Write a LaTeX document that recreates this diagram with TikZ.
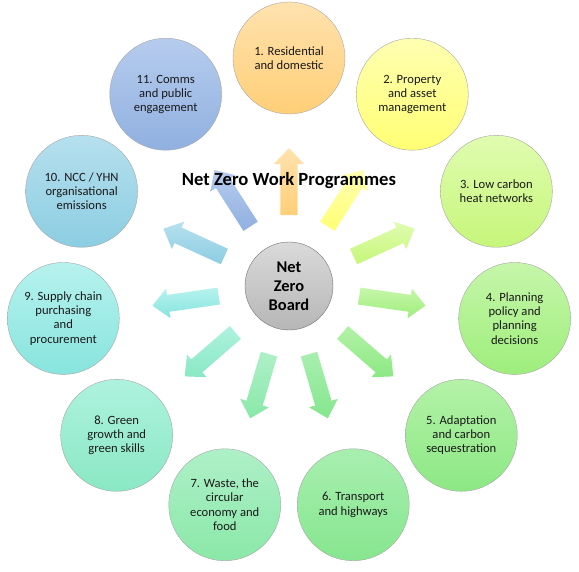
\documentclass[tikz,border=0pt]{standalone}
\usepackage{fontspec}
\setmainfont{Carlito}
\usetikzlibrary{positioning}
\definecolor{top1}{HTML}{FFE2AE}\definecolor{bot1}{HTML}{FFCF78}
\definecolor{top2}{HTML}{FFFFB2}\definecolor{bot2}{HTML}{FFFF74}
\definecolor{top3}{HTML}{E0FCB0}\definecolor{bot3}{HTML}{C6F67A}
\definecolor{top4}{HTML}{C6F6AA}\definecolor{bot4}{HTML}{9EEE7C}
\definecolor{top5}{HTML}{B4F2A8}\definecolor{bot5}{HTML}{8CE884}
\definecolor{top6}{HTML}{A8EFB0}\definecolor{bot6}{HTML}{86E68E}
\definecolor{top7}{HTML}{AEF0C8}\definecolor{bot7}{HTML}{8AE8A8}
\definecolor{top8}{HTML}{AEF2DE}\definecolor{bot8}{HTML}{8AE8C4}
\definecolor{top9}{HTML}{B6F2EE}\definecolor{bot9}{HTML}{88E4DE}
\definecolor{top10}{HTML}{B6E0EE}\definecolor{bot10}{HTML}{8CCDE2}
\definecolor{top11}{HTML}{B6CCEE}\definecolor{bot11}{HTML}{90B0E0}
\definecolor{boardt}{HTML}{DADADA}
\definecolor{boardb}{HTML}{B6B6B6}

\begin{document}
\begin{tikzpicture}[x=1pt,y=1pt,
  prog/.style={circle,draw=black!35,minimum size=112pt,inner sep=0pt,align=center,
    font=\fontsize{12.6}{14.2}\selectfont,text=black!90}]
\useasboundingbox (-289,-285) rectangle (290,286);
% block arrows from the board out to each programme
\foreach \i in {1,...,11}{
  \pgfmathsetmacro\a{90-(\i-1)*360/11}
  \shade[top color=top\i,bottom color=bot\i] (\a+6.83:71.51) -- (\a+3.99:122.3) -- (\a+7.01:122.92) -- (\a:138)
    -- (\a-7.01:122.92) -- (\a-3.99:122.3) -- (\a-6.83:71.51) -- cycle;}
\node[font=\fontsize{18.6}{22}\selectfont\bfseries] (title) at (0,105) {Net Zero Work Programmes};
\node[circle,draw=black!55,minimum size=88pt,inner sep=0pt,top color=boardt,bottom color=boardb,
  align=center,font=\fontsize{16.4}{19}\selectfont\bfseries] (board) at (0,0) {Net\\Zero\\Board};
\foreach \i/\txt in {1/{1. Residential\\and domestic},2/{2. Property\\and asset\\management},
  3/{3. Low carbon\\heat networks},4/{4. Planning\\policy and\\planning\\decisions},
  5/{5. Adaptation\\and carbon\\sequestration},6/{6. Transport\\and highways},
  7/{7. Waste, the\\circular\\economy and\\food},8/{8. Green\\growth and\\green skills},
  9/{9. Supply chain\\purchasing\\and\\procurement},10/{10. NCC / YHN\\organisational\\emissions},
  11/{11. Comms\\and public\\engagement}}{
  \pgfmathsetmacro\a{90-(\i-1)*360/11}
  \node[prog,top color=top\i,bottom color=bot\i] (c\i) at (\a:228) {\txt};}
\end{tikzpicture}
\end{document}
